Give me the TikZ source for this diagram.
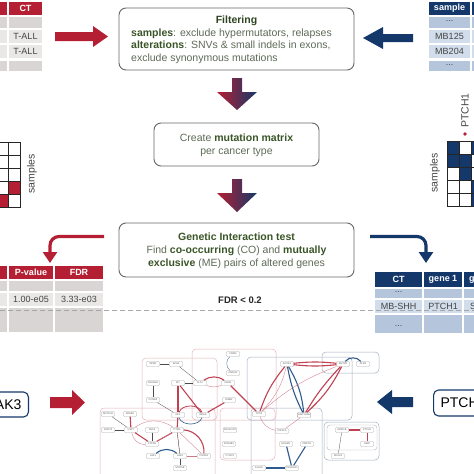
\documentclass[tikz,border=0pt]{standalone}
\usepackage{fontspec}
\setmainfont{Liberation Sans}
\usetikzlibrary{arrows.meta,positioning}

\definecolor{tred}{HTML}{B41F33}
\definecolor{tnavy}{HTML}{14386A}
\definecolor{netblue}{HTML}{2E5A8E}
\definecolor{rowgrayA}{HTML}{DAD5D5}
\definecolor{rowgrayB}{HTML}{EAE7E7}
\definecolor{rowblueA}{HTML}{B5C5DB}
\definecolor{rowblueB}{HTML}{D2DDEC}
\definecolor{boldgreen}{HTML}{3A5527}
\definecolor{textgreen}{HTML}{5E6B57}
\definecolor{celltext}{HTML}{444444}

\newcommand{\hl}[1]{\textbf{\color{boldgreen}#1}}

\begin{document}
\begin{tikzpicture}[x=1pt,y=-1pt,
  stepbox/.style={draw=gray!80!black, line width=0.9pt, rounded corners=7pt, fill=white},
  steptext/.style={text=textgreen, font=\fontsize{10.5}{12.3}\selectfont, inner sep=0pt},
  cell/.style={text=celltext, font=\fontsize{9}{9}\selectfont, inner sep=0pt},
  headcell/.style={text=white, font=\bfseries\fontsize{9}{9}\selectfont, inner sep=0pt},
  gene/.style={draw=gray!65, fill=white, rounded corners=0.8pt, line width=0.4pt,
    font=\fontsize{2.5}{2.7}\selectfont, text=gray!70!black, inner sep=0.6pt,
    minimum width=13pt, minimum height=5pt},
  co/.style={tred!85, line width=1.1pt},
  cothin/.style={tred!60, line width=0.35pt},
  me/.style={netblue, line width=1.1pt},
  methin/.style={netblue!80, line width=0.4pt},
  plain/.style={gray!60!black, line width=0.3pt},
  gridline/.style={gray!30!black, line width=0.6pt},
  redgrp/.style={draw=tred!35, rounded corners=4pt, line width=0.5pt},
  bluegrp/.style={draw=tnavy!40, rounded corners=4pt, line width=0.5pt}]
  \useasboundingbox (0,0) rectangle (474,474);

  % Table of samples (T-ALL)
  \fill[tred] (-40,2) rectangle (7,15);
  \fill[tred] (9,2) rectangle (42,15);
  \foreach \ya/\yb/\c in {17/28/rowgrayA,30/43/rowgrayB,45/58/rowgrayB,61/71/rowgrayA}{
    \fill[\c] (-40,\ya) rectangle (7,\yb);
    \fill[\c] (9,\ya) rectangle (42,\yb);
  }
  \node[headcell] (ctA) at (25.5,8.5) {CT};
  \node[cell] (ctA2) at (25.5,36.5) {T-ALL};
  \node[cell] (ctA3) at (25.5,51.5) {T-ALL};

  % Table of samples (MB)
  \fill[tnavy] (429,2) rectangle (470,15);
  \fill[tnavy] (472,2) rectangle (520,15);
  \foreach \ya/\yb/\c in {17/28/rowblueA,30/43/rowblueB,45/58/rowblueB,61/71/rowblueA}{
    \fill[\c] (429,\ya) rectangle (470,\yb);
    \fill[\c] (472,\ya) rectangle (520,\yb);
  }
  \node[headcell] (smB) at (449.5,8.5) {sample};
  \node[cell] (smB1) at (449.5,21) {...};
  \node[cell] (smB2) at (449.5,36.5) {MB125};
  \node[cell] (smB3) at (449.5,51.5) {MB204};
  \node[cell] (smB4) at (449.5,65) {...};

  % Block arrows into filtering
  \fill[tred] (55,32) -- (93,32) -- (93,26) -- (108,36.5) -- (93,47) -- (93,41) -- (55,41) -- cycle;
  \fill[tnavy] (413,34) -- (383,34) -- (383,27) -- (363,38) -- (383,49) -- (383,42) -- (413,42) -- cycle;

  % Filtering
  \node[stepbox, minimum width=235pt, minimum height=62pt] (filt) at (236.5,39) {};
  \node[steptext, font=\bfseries\fontsize{10.5}{12}\selectfont, text=boldgreen!80!black] (filtT) at (236.5,21) {Filtering};
  \node[steptext, anchor=west, align=left] (filtB) at (131,46) {\hl{samples}: exclude hypermutators, relapses\\
    \hl{alterations}: SNVs \& small indels in exons,\\
    exclude synonymous mutations};

  % Gradient arrows
  \shade[left color=tred, right color=tnavy] (232,78) -- (242,78) -- (242,92) -- (257,92) -- (237,110) -- (217,92) -- (232,92) -- cycle;
  \shade[left color=tred, right color=tnavy] (232,179) -- (242,179) -- (242,193) -- (257,193) -- (237,212) -- (217,193) -- (232,193) -- cycle;

  % Mutation matrix
  \node[stepbox, minimum width=165pt, minimum height=43pt] (mmat) at (236.5,144.5) {};
  \node[steptext, align=center, font=\fontsize{10.5}{13}\selectfont] (mmatT) at (236.5,145.5) {Create \hl{mutation matrix}\\per cancer type};

  % Genetic interaction test
  \node[stepbox, minimum width=235pt, minimum height=54pt] (gint) at (236.5,250) {};
  \node[steptext, align=center, font=\fontsize{10.5}{13}\selectfont] (gintT) at (236.5,250.5) {\hl{Genetic Interaction test}\\
    Find \hl{co-occurring} (CO) and \hl{mutually}\\
    \hl{exclusive} (ME) pairs of altered genes};

  % Mutation matrices
  \fill[tred] (8,181) rectangle (20.5,194);
  \fill[tred] (-4.5,194) rectangle (8,207);
  \foreach \x in {-4.5,8,20.5} \draw[gridline] (\x,142) -- (\x,207);
  \foreach \y in {142,155,...,207} \draw[gridline] (-4.5,\y) -- (20.5,\y);
  \node[rotate=90, font=\fontsize{10.5}{10.5}\selectfont, text=celltext] (smpA) at (32,174) {samples};

  \fill[tnavy] (447,141) rectangle (459,167);
  \fill[tnavy] (459,154) rectangle (471,180);
  \fill[tnavy] (471,180) rectangle (483,206);
  \fill[tnavy] (471,141) rectangle (483,154);
  \foreach \x in {447,459,471,483} \draw[gridline] (\x,141) -- (\x,206);
  \foreach \y in {141,154,...,206} \draw[gridline] (447,\y) -- (483,\y);
  \node[rotate=90, font=\fontsize{10.5}{10.5}\selectfont, text=celltext] (smpB) at (435,173) {samples};
  \fill[tred] (465,134) circle (1.8);
  \node[rotate=90, anchor=west, font=\fontsize{10.5}{10.5}\selectfont, text=celltext, inner sep=0pt] (ptchL) at (465,128) {PTCH1};

  % Arrows to result tables
  \coordinate (LA) at (104,236.5);
  \coordinate (LB) at (50,263);
  \coordinate (RA) at (370,236.5);
  \coordinate (RB) at (426,263);
  \draw[tred, line width=3.2pt, rounded corners=9pt, -{Triangle[width=14pt,length=11pt]}] (LA) -- (LA -| LB) -- (LB);
  \draw[tnavy, line width=3.2pt, rounded corners=9pt, -{Triangle[width=14pt,length=11pt]}] (RA) -- (RA -| RB) -- (RB);

  % Result table (T-ALL)
  \fill[tred] (-40,266) rectangle (7,279);
  \fill[tred] (9,266) rectangle (53,279);
  \fill[tred] (55,266) rectangle (103,279);
  \foreach \ya/\yb/\c in {281/291/rowgrayA,293/306/rowgrayB,308/332/rowgrayA}{
    \fill[\c] (-40,\ya) rectangle (7,\yb);
    \fill[\c] (9,\ya) rectangle (53,\yb);
    \fill[\c] (55,\ya) rectangle (103,\yb);
  }
  \node[headcell] (pvH) at (31,272.5) {P-value};
  \node[headcell] (fdrH) at (79,272.5) {FDR};
  \node[cell] (pv1) at (31,299.5) {1.00-e05};
  \node[cell] (fdr1) at (79,299.5) {3.33-e03};

  % Result table (MB-SHH)
  \fill[tnavy] (375,272) rectangle (422,287);
  \fill[tnavy] (424,272) rectangle (462,287);
  \fill[tnavy] (464,272) rectangle (520,287);
  \foreach \ya/\yb/\c in {289/298/rowblueA,300/313/rowblueB,315/333/rowblueA}{
    \fill[\c] (375,\ya) rectangle (422,\yb);
    \fill[\c] (424,\ya) rectangle (462,\yb);
    \fill[\c] (464,\ya) rectangle (520,\yb);
  }
  \node[headcell] (ctH) at (398.5,279.5) {CT};
  \node[headcell] (g1H) at (443,279.5) {gene 1};
  \node[headcell, anchor=west] (g2H) at (469,279.5) {gene 2};
  \node[cell] (ct1) at (398.5,292) {...};
  \node[cell] (ct2) at (398.5,306.5) {MB-SHH};
  \node[cell] (g12) at (443,306.5) {PTCH1};
  \node[cell, anchor=west] (g22) at (470,306.5) {SMO};
  \node[cell] (ct3) at (398.5,326) {...};

  % FDR cut-off
  \draw[gray!70, line width=0.9pt, dash pattern=on 5pt off 3pt] (0,310) -- (474,310);
  \node[font=\bfseries\fontsize{9.5}{9.5}\selectfont, text=black!85] (fdrcut) at (240,300.5) {FDR < 0.2};

  % Query genes and arrows
  \node[draw=tnavy, line width=1.1pt, rounded corners=5pt, fill=white, anchor=east, minimum height=25pt,
    inner xsep=7pt, font=\fontsize{14}{14}\selectfont] (jak) at (29,404.5) {JAK3};
  \node[draw=tnavy, line width=1.1pt, rounded corners=5pt, fill=white, anchor=west, minimum height=26pt,
    inner xsep=7pt, font=\fontsize{14}{14}\selectfont] (ptch) at (433,403) {PTCH1};
  \fill[tred] (50,397) -- (72,397) -- (72,390) -- (85,402.5) -- (72,415) -- (72,408) -- (50,408) -- cycle;
  \fill[tnavy] (413,397) -- (392,397) -- (392,390) -- (377,402) -- (392,414) -- (392,407) -- (413,407) -- cycle;

  % Network groups
  \draw[redgrp] (142,358) rectangle (217,420);
  \draw[redgrp] (192,349) rectangle (276,420);
  \draw[redgrp] (100,408) rectangle (215,480);
  \draw[redgrp] (220,408) rectangle (275,460);
  \draw[bluegrp] (247,357) rectangle (352,420);
  \draw[bluegrp] (322,352) rectangle (379,373);
  \draw[bluegrp] (251,408) rectangle (322,480);
  \draw[bluegrp] (324,422) rectangle (379,460);
  \draw[draw=gray!60, rounded corners=3pt, line width=0.4pt] (327,425) rectangle (377,450);

  % Network genes
  \node[gene] (NPM1) at (153,364) {NPM1};
  \node[gene] (EZH2) at (176,364) {EZH2};
  \node[gene] (CDKN2A) at (153,383) {CDKN2A};
  \node[gene] (KIT) at (178,383) {KIT};
  \node[gene] (FLT3) at (200,383) {FLT3};
  \node[gene] (KRAS) at (228,383) {KRAS};
  \node[gene] (CCND3) at (153,400) {CCND3};
  \node[gene] (DNM2) at (229,400) {DNM2};
  \node[gene] (FRDN) at (233,354) {FRDN};
  \node[gene] (ZNF192) at (233,373) {ZNF192};
  \node[gene] (NOTCH1) at (108,414) {NOTCH1};
  \node[gene] (ZRSR2) at (130,414) {ZRSR2};
  \node[gene] (NF1) at (178,415) {NF1};
  \node[gene] (NRAS) at (203,415) {NRAS};
  \node[gene] (TP53) at (259,414) {TP53};
  \node[gene] (HIST) at (304,415) {HIST1H1E};
  \node[gene] (CNOT3) at (108,430) {CNOT3};
  \node[gene] (USP7) at (131,430) {USP7};
  \node[gene] (PHF6) at (152,430) {PHF6};
  \node[gene] (PTEN) at (177,430) {PTEN};
  \node[gene] (CROCC) at (230,430) {CROCCP2};
  \node[gene] (PIK3CA) at (282,431) {PIK3CA};
  \node[gene] (ARID1B) at (342,430) {ARID1B};
  \node[gene] (PTCHn) at (367,430) {PTCH1};
  \node[gene] (PTPN2) at (152,444) {PTPN2};
  \node[gene] (KCNAB1) at (229,444) {KCNAB1};
  \node[gene] (NCAM1) at (286,444) {NCAM1};
  \node[gene] (ZNF701) at (307,444) {ZNF701};
  \node[gene] (SMO) at (367,444) {SMO};
  \node[gene] (JAK1) at (153,456) {JAK1};
  \node[gene] (JAK3) at (180,456) {JAK3};
  \node[gene] (PIK3R1) at (204,456) {PIK3R1};
  \node[gene] (CYFIP1) at (230,456) {CYFIP1};
  \node[gene] (DDX3X) at (338,456) {DDX3X};
  \node[gene] (STAT5B) at (180,468) {STAT5B};
  \node[gene] (KLHL6) at (259,468) {KLHL6};
  \node[gene] (POU2AF1) at (292,468) {POU2AF1};
  \node[gene] (ACVR1) at (287,364) {ACVR1};
  \node[gene] (KMT2D) at (343,364) {KMT2D};
  \node[gene] (ATRX) at (363,364) {ATRX};

  % Network interactions
  \draw[plain] (NPM1) -- (EZH2);
  \draw[plain] (EZH2) -- (FLT3);
  \draw[plain] (KIT) -- (FLT3);
  \draw[plain] (CDKN2A) -- (CCND3);
  \draw[plain] (CCND3) -- (NF1);
  \draw[co] (FLT3) to[bend left=35] (KRAS);
  \draw[cothin] (FLT3) to[bend right=20] (KRAS);
  \draw[methin] (FRDN) to[bend right=50] (ZNF192);
  \draw[co] (KIT) -- (NF1);
  \draw[co] (KIT) -- (NRAS);
  \draw[me, line width=0.6pt] (NF1) to[bend right=70] (NRAS);
  \draw[co, line width=0.8pt] (NF1) to[bend left=70] (NRAS);
  \draw[co] (DNM2) -- (NRAS);
  \draw[co] (KRAS) -- (TP53);
  \draw[co] (NF1) -- (PTEN);
  \draw[cothin] (PTEN) -- (JAK3);
  \draw[plain] (JAK3) -- (STAT5B);
  \draw[co] (PTEN) to[bend left=45] (PIK3R1);
  \draw[cothin] (PTEN) -- (PIK3R1);
  \draw[co] (PTEN) -- (PTPN2);
  \draw[co] (USP7) -- (PTPN2);
  \draw[co] (ZRSR2) -- (USP7);
  \draw[plain] (NOTCH1) -- (USP7);
  \draw[plain] (CNOT3) -- (USP7);
  \draw[cothin] (USP7) to[bend left=35] (PTEN);
  \draw[cothin] (USP7) to[bend right=40] (PTPN2);
  \draw[plain] (PHF6) -- (PTPN2);
  \draw[cothin] (PTPN2) -- (PTEN);
  \draw[me] (JAK1) to[bend left=40] (JAK3);
  \draw[cothin] (JAK3) -- (PIK3R1);
  \draw[plain] (PTEN) -- (JAK3);
  \draw[co] (TP53) to[bend left=10] (ACVR1);
  \draw[cothin] (TP53) to[bend right=15] (ACVR1);
  \draw[me] (HIST) to[bend left=8] (ACVR1);
  \draw[me] (HIST) to[bend right=12] (ACVR1);
  \draw[co] (ACVR1) to[bend left=6] (KMT2D);
  \draw[co] (ACVR1) to[bend right=6] (KMT2D);
  \draw[cothin] (TP53) to[bend left=10] (KMT2D);
  \draw[co] (HIST) to[bend left=6] (KMT2D);
  \draw[co] (HIST) to[bend right=10] (KMT2D);
  \draw[me] (KMT2D) to[bend left=50] (ATRX);
  \draw[cothin] (TP53) to[bend right=30] (PIK3CA);
  \draw[cothin] (HIST) -- (PIK3CA);
  \draw[me] (NCAM1) -- (POU2AF1);
  \draw[me] (ZNF701) -- (POU2AF1);
  \draw[me] (KLHL6) -- (POU2AF1);
  \draw[co] (ARID1B) -- (PTCHn);
  \draw[co, line width=0.6pt] (PTCHn) -- (SMO);
  \draw[plain] (ARID1B) -- (DDX3X);
\end{tikzpicture}
\end{document}
